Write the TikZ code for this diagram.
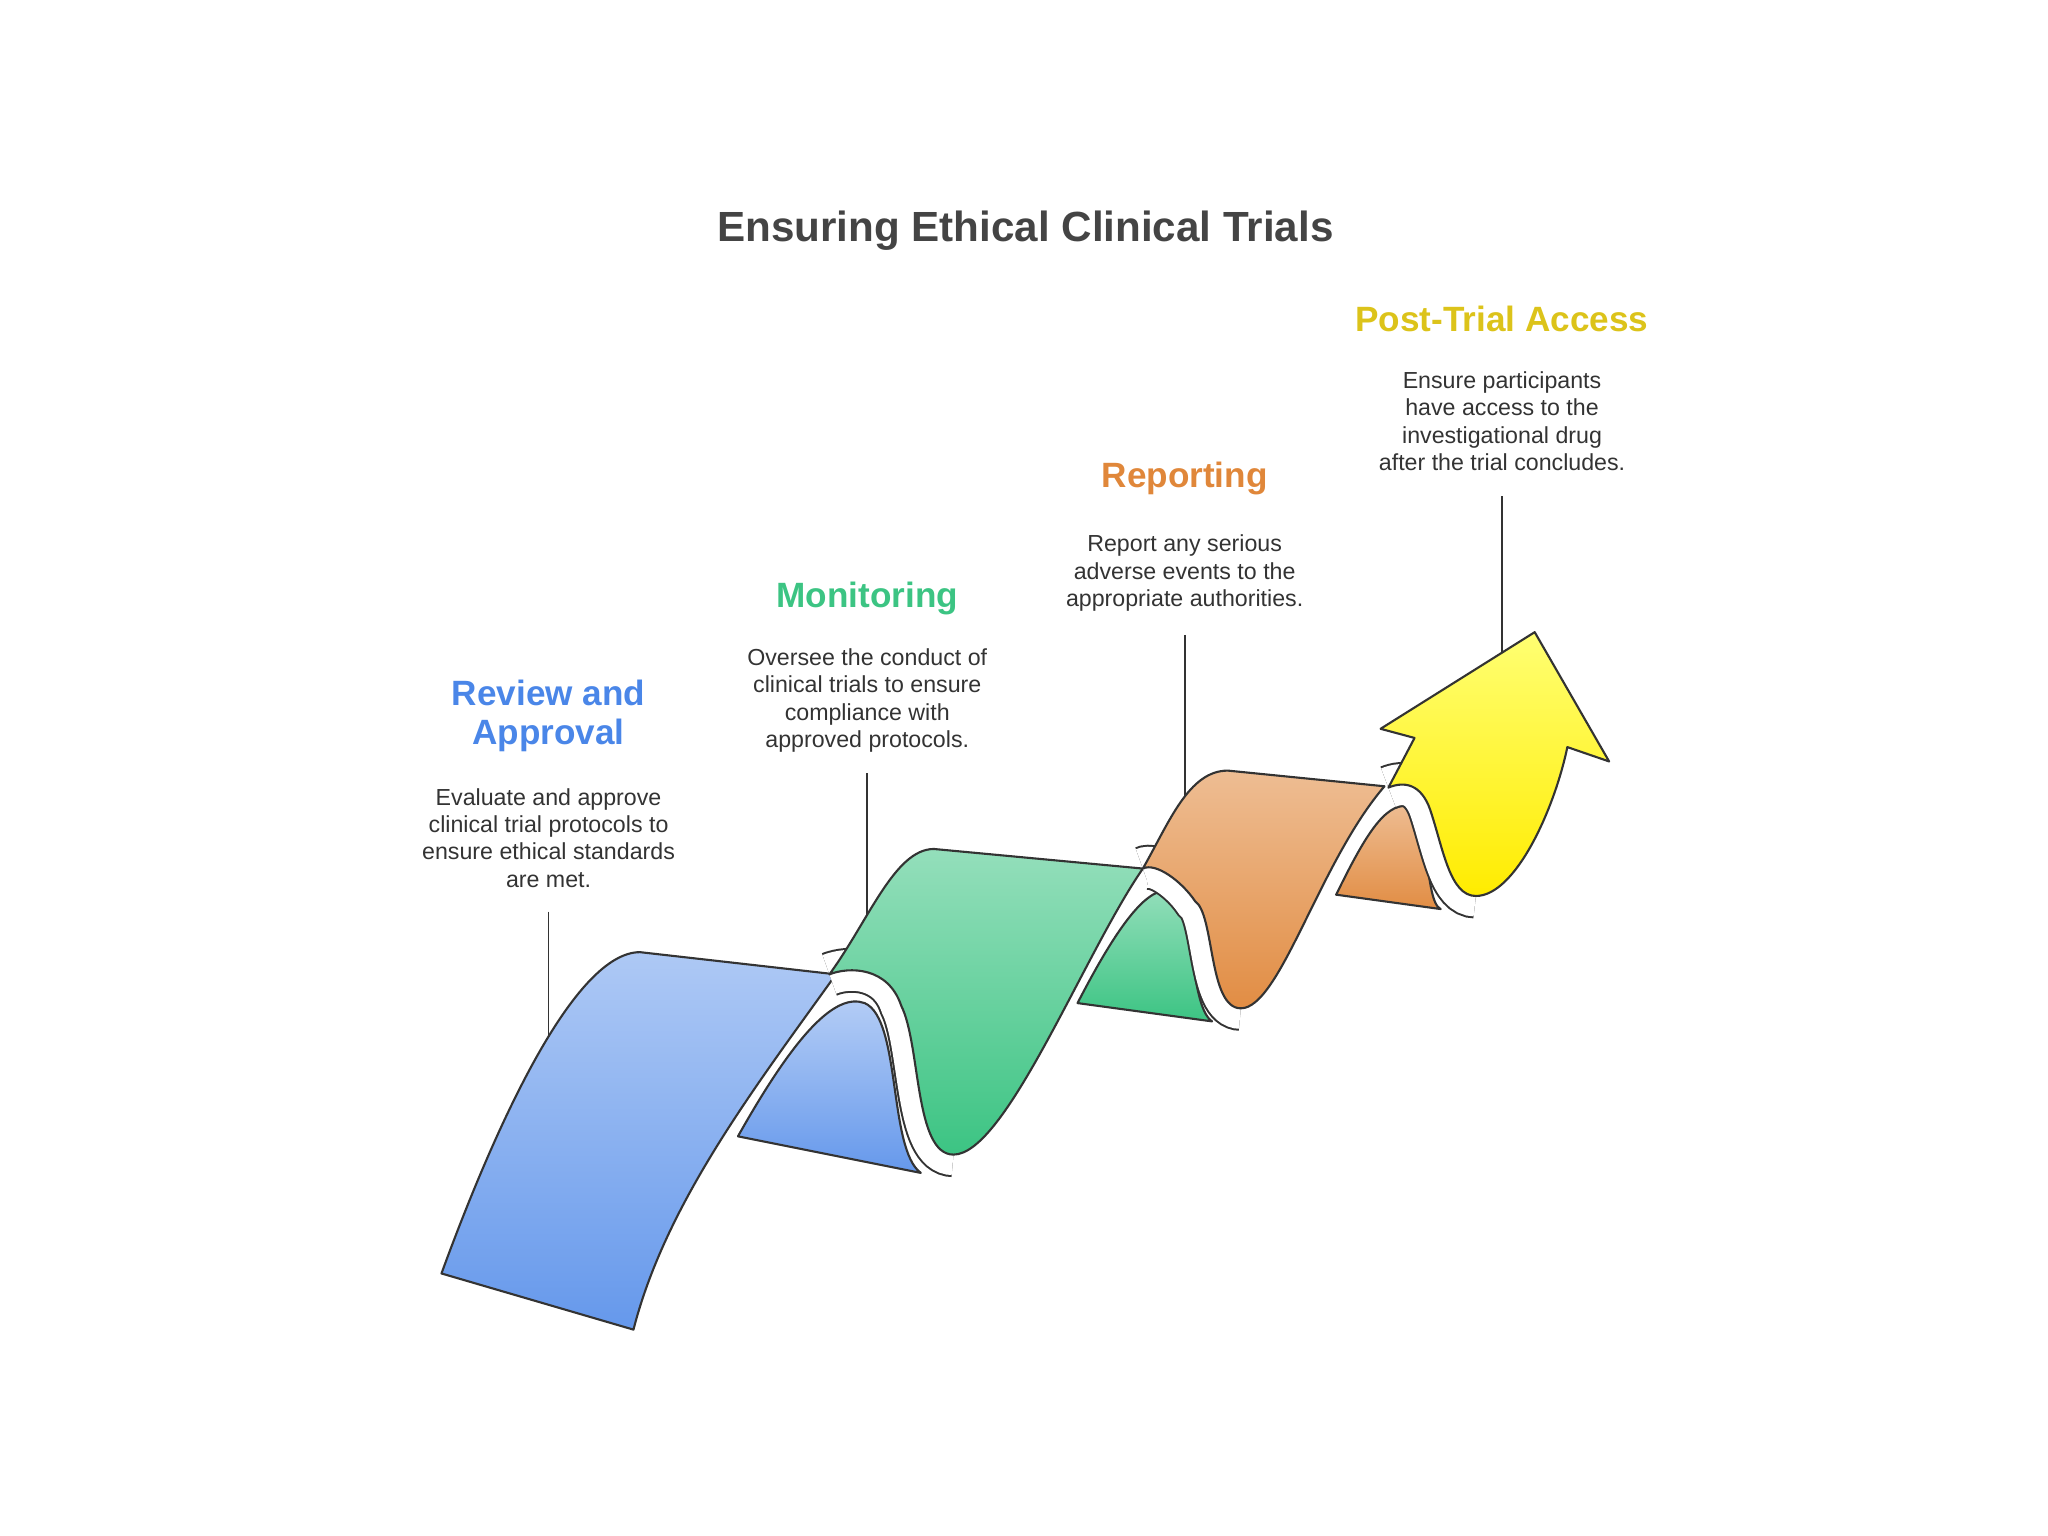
\documentclass[tikz,border=0pt]{standalone}
\usepackage{fontspec}
\setmainfont{Liberation Sans}
\definecolor{ttl}{HTML}{444444}
\definecolor{txt}{HTML}{333333}
\definecolor{cblue}{HTML}{4A86E8}
\definecolor{cgreen}{HTML}{3CC483}
\definecolor{corange}{HTML}{E0873A}
\definecolor{cyellow}{HTML}{DCC31A}
\begin{document}
\begin{tikzpicture}[x=0.01306cm, y=-0.01306cm]
        \tikzstyle{head}=[font=\bfseries\fontsize{10}{11}\selectfont, align=center]
        \tikzstyle{desc}=[font=\fontsize{6.6}{7.8}\selectfont, text=txt, align=center, anchor=north]
        \tikzstyle{drop}=[draw=txt, line width=0.5pt]
        \tikzstyle{face}=[draw=txt, line width=0.6pt, line join=round]
        \tikzstyle{band}=[line width=0.45cm, draw=txt]
        \tikzstyle{gap}=[line width=0.41cm, draw=white]
        \useasboundingbox (0,0) rectangle (1568,1176);

        \node [font=\bfseries\fontsize{12}{14}\selectfont, text=ttl] (title) at (785,177) {Ensuring Ethical Clinical Trials};

        \node [style=head, text=cblue] (h1) at (420,548) {Review and\\Approval};
        \node [style=desc] (d1) at (420,594) {Evaluate and approve\\clinical trial protocols to\\ensure ethical standards\\are met.};
        \node [style=head, text=cgreen] (h2) at (664,458) {Monitoring};
        \node [style=desc] (d2) at (664,487) {Oversee the conduct of\\clinical trials to ensure\\compliance with\\approved protocols.};
        \node [style=head, text=corange] (h3) at (907,366) {Reporting};
        \node [style=desc] (d3) at (907,400) {Report any serious\\adverse events to the\\appropriate authorities.};
        \node [style=head, text=cyellow] (h4) at (1150,244) {Post-Trial Access};
        \node [style=desc] (d4) at (1150,275) {Ensure participants\\have access to the\\investigational drug\\after the trial concludes.};

        % drop lines
        \coordinate (e1) at (420,800);
        \coordinate (e2) at (664,710);
        \coordinate (e3) at (907,620);
        \coordinate (e4) at (1150,505);
        \draw [style=drop] (420,698) -- (e1);
        \draw [style=drop] (664,592) -- (e2);
        \draw [style=drop] (907,486) -- (e3);
        \draw [style=drop] (1150,380) -- (e4);

        % blue
        \shade [top color=cblue!40!white, bottom color=cblue!85!white, style=face] (565,870) .. controls (610,790) and (640,760) .. (662,768) .. controls (690,780) and (680,880) .. (705,898) -- cycle;
        \shade [top color=cblue!45!white, bottom color=cblue!85!white, style=face] (338,975) .. controls (380,860) and (440,729) .. (490,729) -- (640,746) .. controls (580,830) and (510,920) .. (485,1018) -- cycle;

        % green
        \draw [style=band] (635,746) .. controls (650,740) and (680,740) .. (690,770) .. controls (705,800) and (700,884) .. (730,884);
        \draw [style=gap] (635,746) .. controls (650,740) and (680,740) .. (690,770) .. controls (705,800) and (700,884) .. (730,884);
        \shade [top color=cgreen!55!white, bottom color=cgreen, style=face] (825,768) .. controls (860,700) and (880,680) .. (895,682) .. controls (915,690) and (910,770) .. (928,782) -- cycle;
        \shade [top color=cgreen!55!white, bottom color=cgreen, style=face] (635,746) .. controls (665,705) and (685,650) .. (715,650) -- (875,665) .. controls (830,730) and (770,884) .. (730,884) .. controls (700,884) and (705,800) .. (690,770) .. controls (680,740) and (650,740) .. (635,746) -- cycle;

        % orange
        \draw [style=band] (875,665) .. controls (885,660) and (905,675) .. (915,690) .. controls (930,700) and (925,772) .. (950,772);
        \draw [style=gap] (875,665) .. controls (885,660) and (905,675) .. (915,690) .. controls (930,700) and (925,772) .. (950,772);
        \shade [top color=corange!55!white, bottom color=corange!95!white, style=face] (1023,685) .. controls (1045,640) and (1060,615) .. (1078,617) .. controls (1095,620) and (1090,690) .. (1103,696) -- cycle;
        \shade [top color=corange!55!white, bottom color=corange!95!white, style=face] (875,665) .. controls (895,630) and (910,590) .. (940,590) -- (1060,602) .. controls (1010,660) and (980,772) .. (950,772) .. controls (925,772) and (930,700) .. (915,690) .. controls (905,675) and (885,660) .. (875,665) -- cycle;

        % yellow arrow
        \draw [style=band] (1063,603) .. controls (1075,598) and (1088,600) .. (1095,620) .. controls (1105,650) and (1110,686) .. (1130,686);
        \draw [style=gap] (1063,603) .. controls (1075,598) and (1088,600) .. (1095,620) .. controls (1105,650) and (1110,686) .. (1130,686);
        \shade [top color=yellow!55!white, bottom color=yellow!85!orange, style=face] (1063,603) -- (1083,565) -- (1057,558) -- (1175,484) -- (1232,583) -- (1200,572) .. controls (1190,620) and (1160,686) .. (1130,686) .. controls (1110,686) and (1105,650) .. (1095,620) .. controls (1088,600) and (1075,598) .. (1063,603) -- cycle;
\end{tikzpicture}
\end{document}
